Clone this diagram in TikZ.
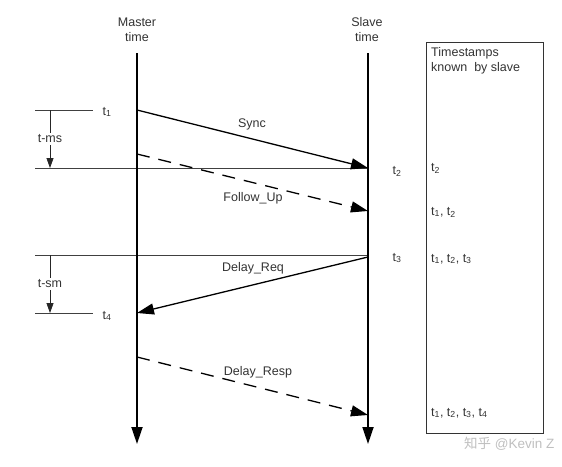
\documentclass[tikz,border=0pt]{standalone}
\usepackage{fontspec}
\setmainfont{Liberation Sans}
\newfontfamily\cjk{Noto Sans CJK SC}
\usetikzlibrary{arrows.meta}
\newcommand\ts[1]{t\textsubscript{#1}}
\begin{document}
\begin{tikzpicture}[x=1pt,y=-1pt,
  every node/.style={font=\fontsize{12.5}{14}\selectfont, text=black!80, inner sep=1pt},
  timeline/.style={line width=1.8pt, -{Triangle[length=17pt,width=11pt]}},
  msg/.style={line width=1.3pt, -{Triangle[length=17pt,width=11pt]}},
  dmsg/.style={msg, dash pattern=on 13pt off 9pt},
  thin line/.style={line width=0.8pt, draw=black!75},
  interval/.style={line width=0.8pt, draw=black!85, -{Triangle[length=10pt,width=7pt]}},
  lbl/.style={align=center, font=\fontsize{12.5}{15}\selectfont}
]
\useasboundingbox (0,0) rectangle (562,466);
% timelines
\node[lbl] (mt) at (137,30) {Master\\time};
\node[lbl] (st) at (367,30) {Slave\\time};
\coordinate (mtop) at (137,53);
\coordinate (mbot) at (137,444);
\coordinate (stop) at (368,53);
\coordinate (sbot) at (368,444);
% horizontal reference lines
\coordinate (h1a) at (35,110); \coordinate (h1b) at (93,110);
\coordinate (h2a) at (35,168); \coordinate (h2b) at (368,168);
\coordinate (h3a) at (35,255); \coordinate (h3b) at (368,255);
\coordinate (h4a) at (35,313); \coordinate (h4b) at (93,313);
\draw[thin line] (h1a) -- (h1b);
\draw[thin line] (h2a) -- (h2b);
\draw[thin line] (h3a) -- (h3b);
\draw[thin line] (h4a) -- (h4b);
\draw[timeline] (mtop) -- (mbot);
\draw[timeline] (stop) -- (sbot);
% intervals
\coordinate (i1a) at (50,110); \coordinate (i1b) at (50,168);
\coordinate (i2a) at (50,255); \coordinate (i2b) at (50,313);
\draw[interval] (i1a) -- node[fill=white, inner sep=2pt] (tms) {t-ms} (i1b);
\draw[interval] (i2a) -- node[fill=white, inner sep=2pt] (tsm) {t-sm} (i2b);
% time labels
\node (t1) at (107,112) {\ts{1}};
\node (t2) at (397,171) {\ts{2}};
\node (t3) at (397,258) {\ts{3}};
\node (t4) at (107,316) {\ts{4}};
% messages
\coordinate (s0) at (137,110); \coordinate (s1) at (368,168);
\coordinate (f0) at (137,154); \coordinate (f1) at (368,211);
\coordinate (d0) at (368,257); \coordinate (d1) at (137,313);
\coordinate (r0) at (137,357); \coordinate (r1) at (368,415);
\draw[msg] (s0) -- (s1);
\draw[dmsg] (f0) -- (f1);
\draw[msg] (d0) -- (d1);
\draw[dmsg] (r0) -- (r1);
\node (sync) at (252,124) {Sync};
\node (fu) at (253,198) {Follow\_Up};
\node (dreq) at (253,268) {Delay\_Req};
\node (dresp) at (258,372) {Delay\_Resp};
% box
\draw[line width=0.8pt, draw=black!80] (426,42) rectangle (543,433);
\node[lbl, align=left, anchor=north west] (hdr) at (430,46) {Timestamps\\known\ \ by slave};
\node[anchor=west] (k1) at (430,168) {\ts{2}};
\node[anchor=west] (k2) at (430,212) {\ts{1}, \ts{2}};
\node[anchor=west] (k3) at (430,259) {\ts{1}, \ts{2}, \ts{3}};
\node[anchor=west] (k4) at (430,413) {\ts{1}, \ts{2}, \ts{3}, \ts{4}};
% watermark
\node[text=black!25, anchor=west, font=\fontsize{13.5}{15}\selectfont] (wm) at (463,444) {{\cjk 知乎} @Kevin Z};
\end{tikzpicture}
\end{document}
